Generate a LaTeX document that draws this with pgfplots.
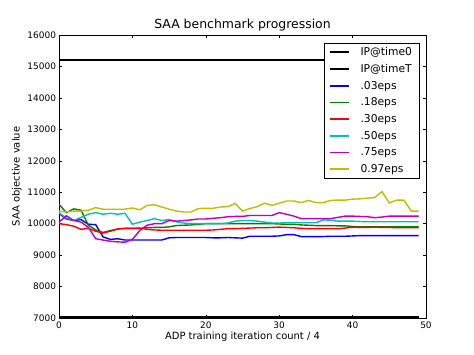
\documentclass[border=0pt]{standalone}
\usepackage{pgfplots}
\usepackage{pgfplotstable}
\pgfplotsset{compat=1.18}
\usepackage{fontspec}
\setmainfont{DejaVu Sans}
\definecolor{mplb}{rgb}{0,0,1}
\definecolor{mplg}{rgb}{0,0.5,0}
\definecolor{mplr}{rgb}{1,0,0}
\definecolor{mplc}{rgb}{0,0.75,0.75}
\definecolor{mplm}{rgb}{0.75,0,0.75}
\definecolor{mply}{rgb}{0.75,0.75,0}
\pgfplotsset{
  mylegimg/.style={legend image code/.code={\draw[##1, line width=1.7bp] (0bp,0bp) -- (19bp,0bp);}},
}
\pgfplotstableread{
x blue green red cyan mag yel t0 tT
0 10330 10620 10000 10350 10050 10400 15200 7030
1 10150 10350 9970 10180 10250 10370 15200 7030
2 10100 10470 9920 10100 10100 10400 15200 7030
3 10130 10430 9820 10200 10050 10400 15200 7030
4 9980 9950 9850 10300 9880 10430 15200 7030
5 9970 9800 9760 10350 9520 10510 15200 7030
6 9580 9720 9700 10300 9480 10460 15200 7030
7 9500 9780 9760 10330 9440 10460 15200 7030
8 9520 9830 9830 10300 9420 10460 15200 7030
9 9480 9850 9850 10330 9410 10460 15200 7030
10 9480 9850 9850 9980 9500 10500 15200 7030
11 9480 9850 9860 10050 9780 10440 15200 7030
12 9480 9870 9820 10100 9950 10580 15200 7030
13 9480 9880 9800 10160 10000 10600 15200 7030
14 9480 9880 9790 10100 10000 10530 15200 7030
15 9550 9900 9790 10130 10100 10460 15200 7030
16 9560 9940 9790 10060 10080 10400 15200 7030
17 9560 9950 9790 10020 10100 10370 15200 7030
18 9560 9960 9790 10000 10120 10370 15200 7030
19 9560 9980 9790 10000 10150 10480 15200 7030
20 9560 10000 9790 10000 10150 10490 15200 7030
21 9550 10000 9800 10000 10170 10490 15200 7030
22 9550 10000 9820 10000 10190 10530 15200 7030
23 9560 10000 9840 10020 10220 10540 15200 7030
24 9550 10000 9840 10080 10230 10640 15200 7030
25 9540 10000 9850 10100 10230 10400 15200 7030
26 9600 10000 9860 10100 10260 10480 15200 7030
27 9600 10000 9870 10080 10260 10540 15200 7030
28 9600 10000 9870 10050 10260 10650 15200 7030
29 9600 10000 9880 10020 10260 10580 15200 7030
30 9610 9990 9890 10020 10350 10650 15200 7030
31 9650 9980 9880 10030 10300 10720 15200 7030
32 9650 9980 9870 10030 10240 10720 15200 7030
33 9590 9960 9850 10030 10160 10670 15200 7030
34 9590 9950 9840 10030 10160 10740 15200 7030
35 9590 9940 9840 10030 10160 10670 15200 7030
36 9590 9940 9840 10120 10160 10670 15200 7030
37 9600 9940 9840 10110 10160 10740 15200 7030
38 9600 9930 9840 10080 10200 10750 15200 7030
39 9600 9930 9860 10080 10240 10750 15200 7030
40 9610 9910 9890 10080 10240 10780 15200 7030
41 9620 9900 9880 10070 10230 10790 15200 7030
42 9620 9900 9880 10060 10220 10810 15200 7030
43 9620 9900 9890 10060 10190 10830 15200 7030
44 9620 9900 9880 10060 10210 11020 15200 7030
45 9620 9900 9880 10060 10240 10660 15200 7030
46 9620 9900 9870 10060 10240 10750 15200 7030
47 9620 9900 9870 10060 10240 10750 15200 7030
48 9620 9900 9870 10060 10240 10400 15200 7030
49 9620 9900 9870 10060 10240 10400 15200 7030
}\data
\begin{document}
\begin{tikzpicture}
\begin{axis}[
  scale only axis,
  width=367bp, height=283bp,
  xmin=0, xmax=50, ymin=7000, ymax=16000,
  xtick={0,10,20,30,40,50},
  ytick={7000,8000,...,16000},
  scaled y ticks=false,
  tick align=inside,
  major tick length=2.8bp,
  axis line style={line width=0.6bp},
  every tick/.style={black, line width=0.5bp},
  /pgf/number format/1000 sep={},
  /pgf/number format/assume math mode=true,
  tick label style={font=\fontsize{9}{10}\selectfont},
  yticklabel style={xshift=0.5bp},
  label style={font=\fontsize{10}{11}\selectfont},
  xlabel={ADP training iteration count / 4},
  ylabel={SAA objective value},
  xlabel style={yshift=3bp},
  ylabel style={yshift=-1bp},
  title={SAA benchmark progression},
  title style={font=\fontsize{12.5}{14}\selectfont, yshift=-5.5bp},
  legend cell align=left,
  legend style={at={(axis description cs:0.982,0.971)}, anchor=north east,
    font=\fontsize{10.8}{12}\selectfont, line width=0.6bp,
    inner xsep=5bp, inner ysep=2bp, row sep=3.2bp,
    /tikz/every odd column/.append style={column sep=9bp}},
  mylegimg,
]
\addplot[color=black, line width=1.8bp] table[x=x,y=t0]{\data};
\addlegendentry{IP@time0}
\addplot[color=black, line width=1.8bp] table[x=x,y=tT]{\data};
\addlegendentry{IP@timeT}
\addplot[color=mplb, line width=1.4bp] table[x=x,y=blue]{\data};
\addlegendentry{.03eps}
\addplot[color=mplg, line width=1.4bp] table[x=x,y=green]{\data};
\addlegendentry{.18eps}
\addplot[color=mplr, line width=1.4bp] table[x=x,y=red]{\data};
\addlegendentry{.30eps}
\addplot[color=mplc, line width=1.4bp] table[x=x,y=cyan]{\data};
\addlegendentry{.50eps}
\addplot[color=mplm, line width=1.4bp] table[x=x,y=mag]{\data};
\addlegendentry{.75eps}
\addplot[color=mply, line width=1.4bp] table[x=x,y=yel]{\data};
\addlegendentry{0.97eps}
\end{axis}
\pgfresetboundingbox
\path (current axis.south west) ++(-59bp,-37bp) rectangle ++(474bp,355bp);
\end{tikzpicture}
\end{document}
